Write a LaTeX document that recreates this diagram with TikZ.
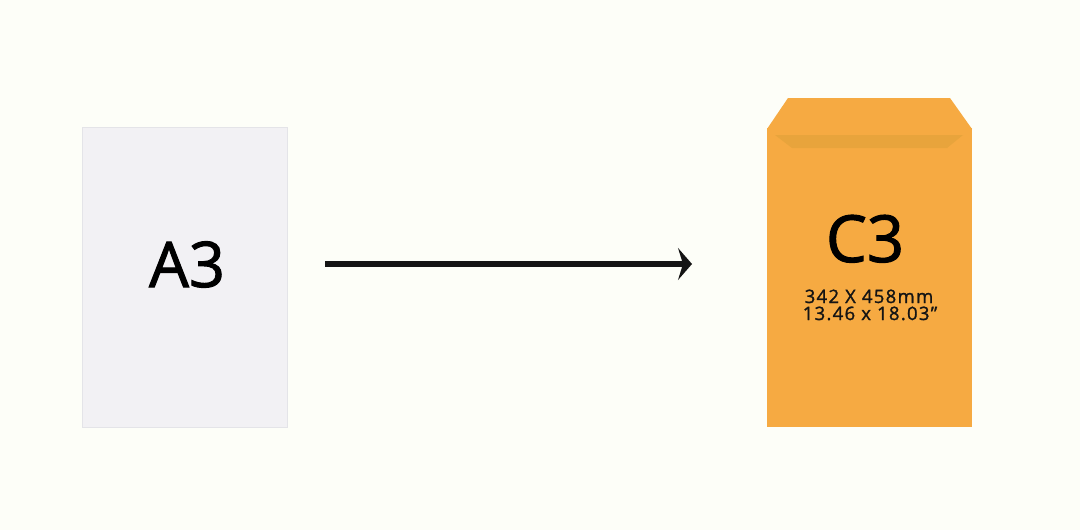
\documentclass[tikz,border=0pt]{standalone}
\usepackage{fontspec}
\setmainfont{Open Sans}
\newfontfamily\bigfont[FakeBold=1.6]{Open Sans}
\newfontfamily\spaced[LetterSpace=7,FakeBold=1.3]{Open Sans}
\usetikzlibrary{arrows.meta}
\definecolor{bg}{RGB}{253,254,248}
\definecolor{pagefill}{RGB}{242,241,244}
\definecolor{pageedge}{RGB}{228,228,232}
\definecolor{envfill}{RGB}{246,170,66}
\definecolor{flapband}{RGB}{232,164,60}
\definecolor{ink}{RGB}{20,20,20}
\tikzset{
  bigtxt/.style={anchor=base, text=black, inner sep=0pt, font=\bigfont\fontsize{63}{63}\selectfont},
  smalltxt/.style={anchor=base, text=ink, inner sep=0pt, font=\spaced\fontsize{18.5}{18.5}\selectfont},
  arrowline/.style={line width=6pt, draw=ink, -{Stealth[length=14pt,width=32pt,inset=5pt]}},
}
\begin{document}
\begin{tikzpicture}[x=1pt,y=-1pt]
\fill[bg] (0,0) rectangle (1080,530);
\useasboundingbox (0,0) rectangle (1080,530);
% A3 sheet
\node[draw=pageedge, fill=pagefill, line width=0.8pt, minimum width=205pt, minimum height=300pt, inner sep=0pt] (page) at (184.5,277) {};
\node[bigtxt] (a3) at (187,287) {A3};
% envelope
\node[fill=envfill, minimum width=205pt, minimum height=299pt, inner sep=0pt] (env) at (869.5,277.5) {};
\fill[envfill] (767,129) -- (788,98) -- (950,98) -- (972,129) -- cycle;
\fill[flapband] (775,135) -- (963,135) -- (947,148) -- (792,148) -- cycle;
\node[bigtxt, font=\bigfont\fontsize{65}{65}\selectfont] (c3) at (865,262) {C3};
\node[smalltxt] (dim1) at (869,303) {342 X 458mm};
\node[smalltxt] (dim2) at (870,320) {13.46 x 18.03”};
% arrow
\coordinate (a0) at (325,264);
\coordinate (a1) at (692,264);
\draw[arrowline] (a0) -- (a1);
\end{tikzpicture}
\end{document}
